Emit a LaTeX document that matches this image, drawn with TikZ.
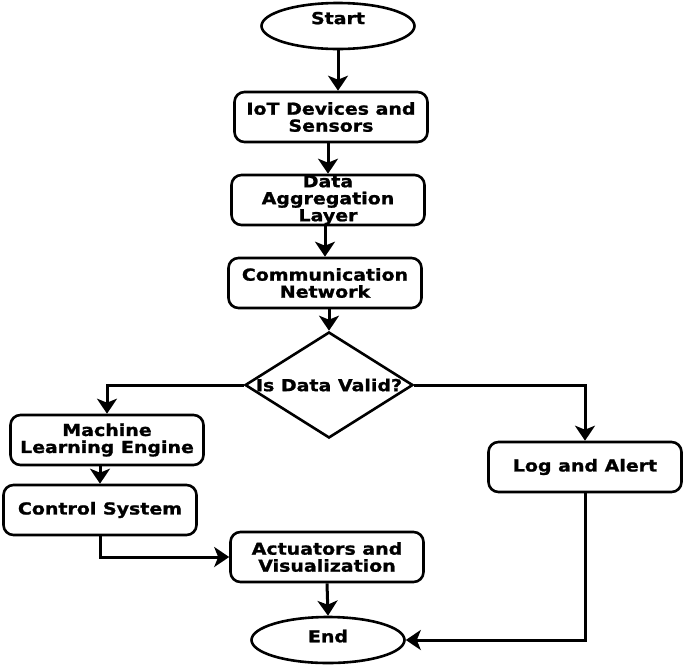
\documentclass[tikz,border=0pt]{standalone}
\usepackage{fontspec}
\newfontfamily\flowfont{DejaVu Sans}[FakeStretch=1.15, BoldFeatures={FakeBold=1.2}]
\usetikzlibrary{shapes.geometric,arrows.meta}
\tikzset{
  flowtext/.style={font=\flowfont\bfseries\fontsize{16.5}{17}\selectfont},
  box/.style={draw, rounded corners=10pt, line width=2.6pt, minimum width=193pt,
    minimum height=50pt, inner ysep=0pt, align=center, flowtext},
  terminal/.style={draw, ellipse, line width=2.6pt, minimum width=153pt,
    minimum height=46pt, inner sep=0pt, flowtext},
  decision/.style={draw, diamond, line width=2.6pt, minimum width=168pt,
    minimum height=106pt, inner sep=0pt, flowtext},
  flow/.style={line width=3pt, -{Stealth[length=15pt,width=20pt,inset=4pt]}}
}

\begin{document}
\begin{tikzpicture}[x=1pt,y=-1pt]
  \useasboundingbox (0,0) rectangle (685,665);

  \node[terminal, text depth=16pt] (start) at (338,26) {Start};
  \node[box] (iot) at (331,117) {IoT Devices and\\Sensors};
  \node[box] (data) at (328,200) {Data\\Aggregation\\Layer};
  \node[box] (comm) at (325,283) {Communication\\Network};
  \node[decision, label={[flowtext]center:Is Data Valid?}] (valid) at (329,385) {};
  \node[box] (ml) at (107,440) {Machine\\Learning Engine};
  \node[box] (log) at (585,467) {Log and Alert};
  \node[box] (ctrl) at (100,510) {Control System};
  \node[box] (act) at (327,557) {Actuators and\\Visualization};
  \node[terminal, text depth=8pt] (end) at (328,640) {End};

  \draw[flow] (start.south) -- (start.south |- iot.north);
  \draw[flow] (data.north |- iot.south) -- (data.north);
  \draw[flow] (comm.north |- data.south) -- (comm.north);
  \draw[flow] (valid.north |- comm.south) -- (valid.north);
  \draw[flow] (valid.west) -| (ml.north);
  \draw[flow] (valid.east) -| (log.north);
  \draw[flow] (ctrl.north |- ml.south) -- (ctrl.north);
  \draw[flow] (ctrl.south) |- (act.west);
  \draw[flow] (act.south) -- (end.north);
  \draw[flow] (log.south) |- (end.east);
\end{tikzpicture}
\end{document}
